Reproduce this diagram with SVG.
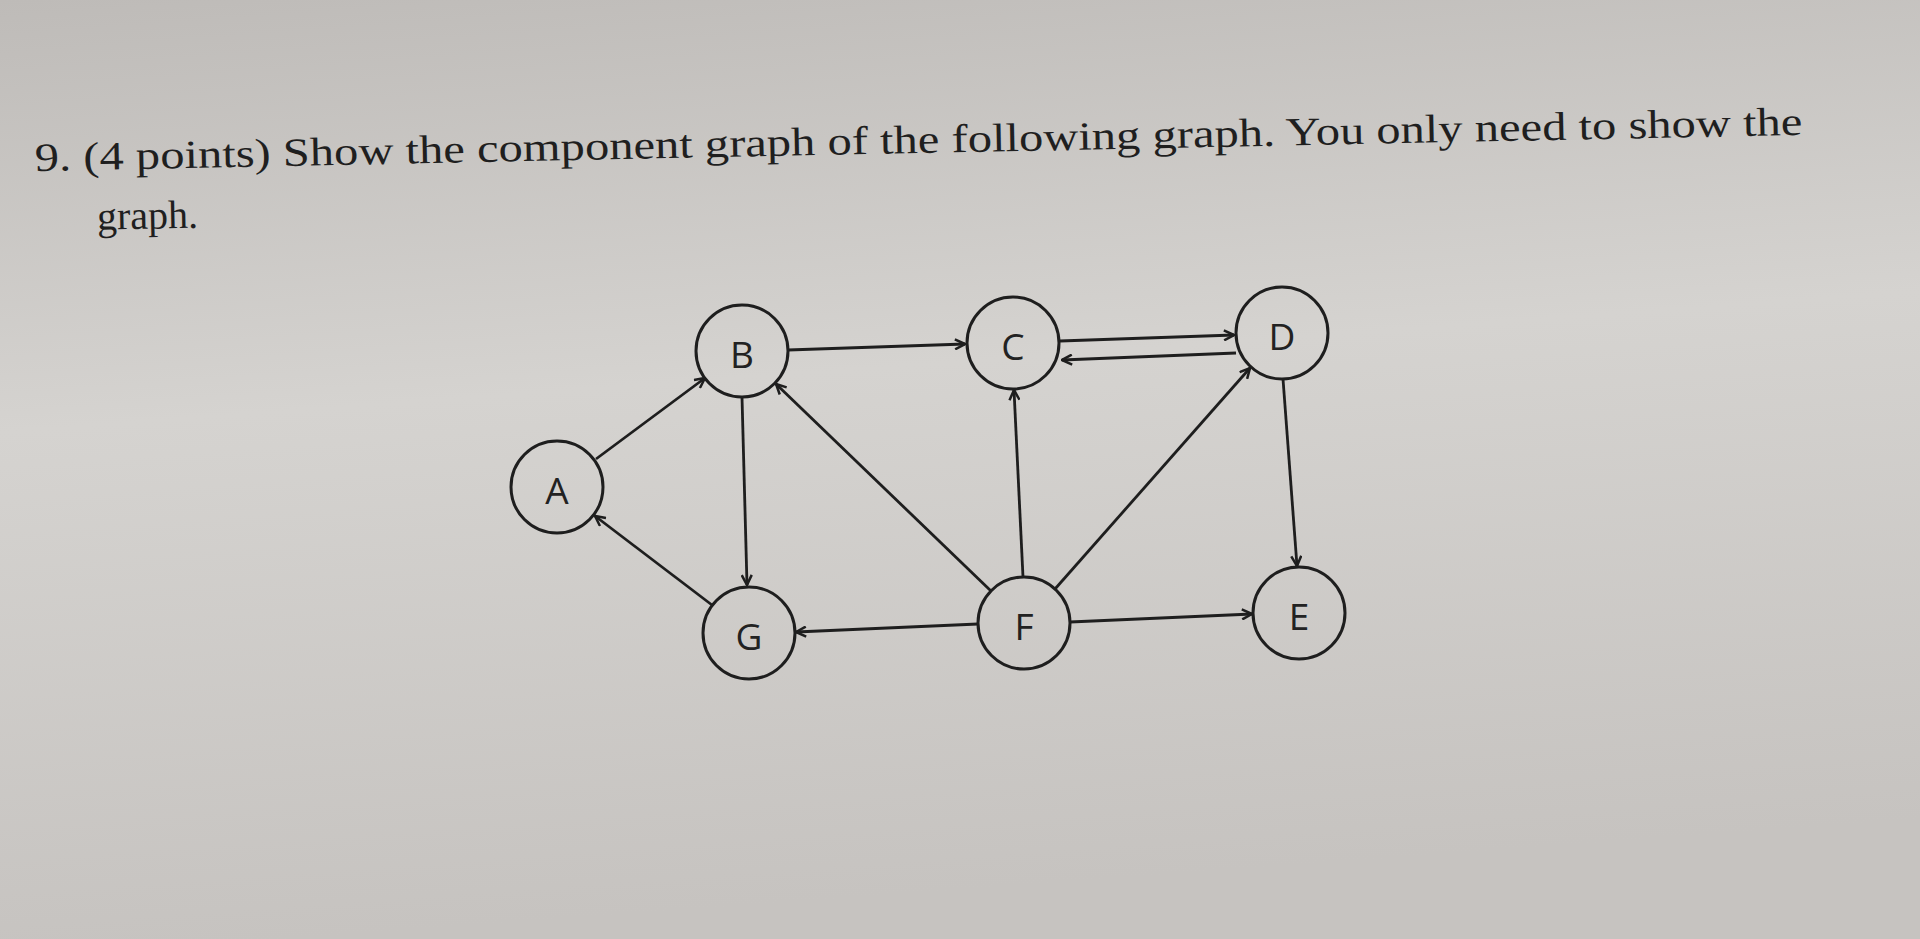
<svg xmlns="http://www.w3.org/2000/svg" width="1920" height="939" viewBox="0 0 1920 939">
<defs>
<linearGradient id="bg" x1="0" y1="0" x2="0.15" y2="1">
<stop offset="0" stop-color="#bebbb8"/>
<stop offset="0.45" stop-color="#d5d3d0"/>
<stop offset="1" stop-color="#c6c3c0"/>
</linearGradient>
<marker id="ar" viewBox="0 0 12 12" refX="11" refY="6" markerWidth="12" markerHeight="12" markerUnits="userSpaceOnUse" orient="auto">
<path d="M1,1 L11,6 L1,11" fill="none" stroke="#1e1e1e" stroke-width="2.5"/>
</marker>
<style>
.n circle{fill:none;stroke:#1e1e1e;stroke-width:3}
.n text{font-family:"Open Sans","Liberation Sans",sans-serif;font-size:37px;fill:#222;text-anchor:middle;dominant-baseline:central}
#edges line{stroke:#1e1e1e;stroke-width:2.8;marker-end:url(#ar)}
.t{font-family:"Liberation Serif",serif;font-size:40px;fill:#1f1f1f}
</style>
</defs>
<rect width="1920" height="939" fill="url(#bg)"/>
<text class="t" transform="rotate(-1.17 35 171)" x="35" y="171" textLength="1768" lengthAdjust="spacingAndGlyphs">9. (4 points) Show the component graph of the following graph. You only need to show the</text>
<text class="t" transform="rotate(-1.17 35 171)" x="96" y="231">graph.</text>
<g id="edges">
<line x1="596" y1="459" x2="705" y2="378"/>
<line x1="788" y1="350" x2="965" y2="344"/>
<line x1="1060" y1="341" x2="1234" y2="335"/>
<line x1="1236" y1="353" x2="1062" y2="360"/>
<line x1="742" y1="397" x2="747" y2="585"/>
<line x1="991" y1="591" x2="776" y2="384"/>
<line x1="1023" y1="577" x2="1014" y2="390"/>
<line x1="1055" y1="589" x2="1250" y2="368"/>
<line x1="1283" y1="379" x2="1297" y2="566"/>
<line x1="712" y1="605" x2="595" y2="516"/>
<line x1="978" y1="624" x2="796" y2="632"/>
<line x1="1070" y1="622" x2="1252" y2="614"/>
</g>
<g id="A" class="n"><circle cx="557" cy="487" r="46"/><text x="557" y="489">A</text></g>
<g id="B" class="n"><circle cx="742" cy="351" r="46"/><text x="742" y="353">B</text></g>
<g id="C" class="n"><circle cx="1013" cy="343" r="46"/><text x="1013" y="345">C</text></g>
<g id="D" class="n"><circle cx="1282" cy="333" r="46"/><text x="1282" y="335">D</text></g>
<g id="G" class="n"><circle cx="749" cy="633" r="46"/><text x="749" y="635">G</text></g>
<g id="F" class="n"><circle cx="1024" cy="623" r="46"/><text x="1024" y="625">F</text></g>
<g id="E" class="n"><circle cx="1299" cy="613" r="46"/><text x="1299" y="615">E</text></g>
</svg>
